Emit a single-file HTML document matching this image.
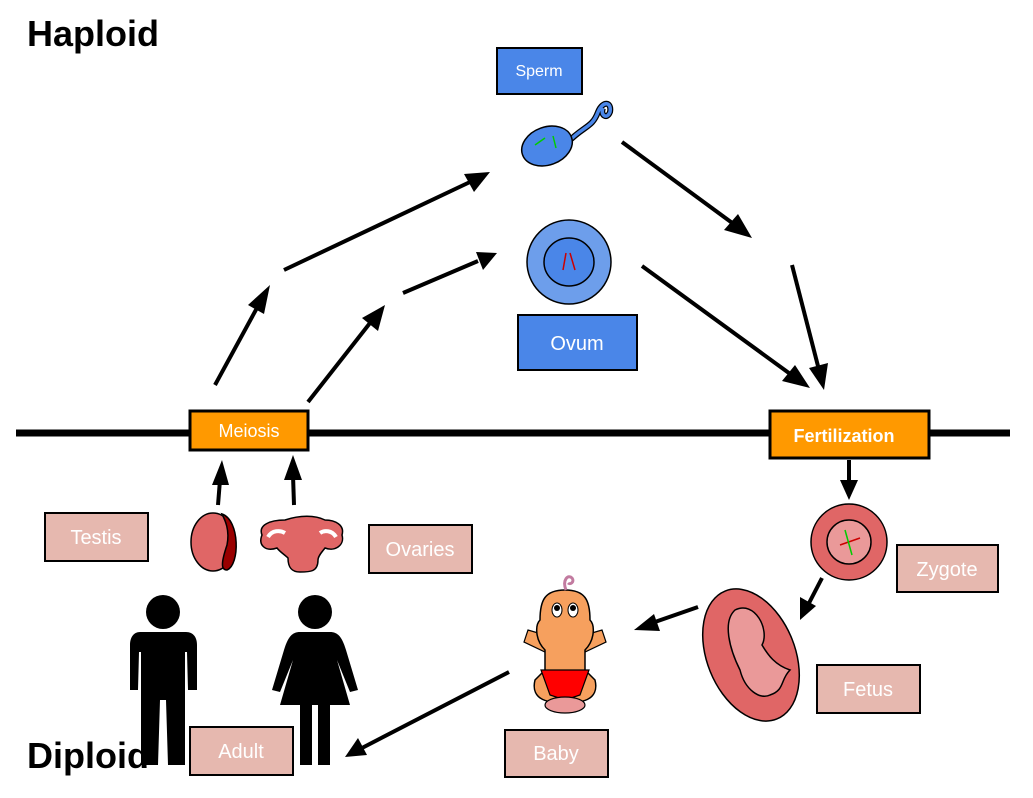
<!DOCTYPE html>
<html><head><meta charset="utf-8"><style>
body{margin:0;background:#fff;}
svg{display:block;font-family:"Liberation Sans",sans-serif;}
</style></head><body>
<svg width="1033" height="798" viewBox="0 0 1033 798" xmlns="http://www.w3.org/2000/svg">
<text x="27" y="46" font-size="36" font-weight="bold">Haploid</text>
<text x="27" y="768" font-size="36" font-weight="bold">Diploid</text>
<line x1="16" y1="433" x2="1010" y2="433" stroke="#000" stroke-width="7"/>

<g stroke="#000" stroke-width="4" fill="none">
<line x1="215" y1="385" x2="258" y2="306"/>
<line x1="284" y1="270" x2="470" y2="182"/>
<line x1="308" y1="402" x2="370" y2="323"/>
<line x1="403" y1="293" x2="478" y2="261"/>
<line x1="622" y1="142" x2="735" y2="225"/>
<line x1="792" y1="265" x2="819" y2="370"/>
<line x1="642" y1="266" x2="793" y2="376"/>
<line x1="849" y1="460" x2="849" y2="485"/>
<line x1="822" y1="578" x2="808" y2="605"/>
<line x1="698" y1="607" x2="652" y2="623"/>
<line x1="509" y1="672" x2="362" y2="748"/>
<line x1="218" y1="505" x2="220" y2="480"/>
<line x1="294" y1="505" x2="293" y2="475"/>
</g>
<g fill="#000">
<polygon points="270,285 264,314 248,305"/>
<polygon points="490,172 474,192 464,174"/>
<polygon points="385,305 378,331 362,318"/>
<polygon points="497,253 483,270 476,252"/>
<polygon points="752,238 724,230 738,214"/>
<polygon points="824,390 809,368 828,363"/>
<polygon points="810,388 782,381 795,365"/>
<polygon points="849,500 840,480 858,480"/>
<polygon points="800,620 800,597 816,606"/>
<polygon points="634,630 654,614 660,631"/>
<polygon points="345,757 358,738 367,755"/>
<polygon points="222,460 229,485 212,485"/>
<polygon points="293,455 302,480 284,480"/>
</g>

<rect x="190" y="411" width="118" height="39" fill="#ff9900" stroke="#000" stroke-width="3"/>
<text x="249" y="437" font-size="18" fill="#fff" text-anchor="middle">Meiosis</text>
<rect x="770" y="411" width="159" height="47" fill="#ff9900" stroke="#000" stroke-width="3"/>
<text x="844" y="442" font-size="18" fill="#fff" font-weight="bold" text-anchor="middle">Fertilization</text>
<rect x="497" y="48" width="85" height="46" fill="#4a86e8" stroke="#000" stroke-width="2"/>
<text x="539" y="76" font-size="16" fill="#fff" text-anchor="middle">Sperm</text>
<rect x="518" y="315" width="119" height="55" fill="#4a86e8" stroke="#000" stroke-width="2"/>
<text x="577" y="350" font-size="20" fill="#fff" text-anchor="middle">Ovum</text>
<g fill="#e6b8af" stroke="#000" stroke-width="2">
<rect x="45" y="513" width="103" height="48"/>
<rect x="369" y="525" width="103" height="48"/>
<rect x="897" y="545" width="101" height="47"/>
<rect x="817" y="665" width="103" height="48"/>
<rect x="505" y="730" width="103" height="47"/>
<rect x="190" y="727" width="103" height="48"/>
</g>
<g fill="#fff" font-size="20" text-anchor="middle">
<text x="96" y="544">Testis</text>
<text x="420" y="556">Ovaries</text>
<text x="947" y="576">Zygote</text>
<text x="868" y="696">Fetus</text>
<text x="556" y="760">Baby</text>
<text x="241" y="758">Adult</text>
</g>

<path d="M568,142 C585,125 592,128 598,112 C603,100 612,102 610,112 C607,120 600,115 603,108" fill="none" stroke="#000" stroke-width="6"/>
<path d="M568,142 C585,125 592,128 598,112 C603,100 612,102 610,112 C607,120 600,115 603,108" fill="none" stroke="#4a86e8" stroke-width="3.5"/>
<ellipse cx="547" cy="146" rx="26" ry="19" transform="rotate(-20 547 146)" fill="#4a86e8" stroke="#000" stroke-width="1.5"/>
<line x1="535" y1="145" x2="545" y2="138" stroke="#0c0" stroke-width="1.5"/>
<line x1="553" y1="136" x2="556" y2="148" stroke="#0c0" stroke-width="1.5"/>
<circle cx="569" cy="262" r="42" fill="#6d9eeb" stroke="#000" stroke-width="1.5"/>
<ellipse cx="569" cy="262" rx="25" ry="24" fill="#4a86e8" stroke="#000" stroke-width="1.5"/>
<line x1="566" y1="253" x2="563" y2="270" stroke="#c00" stroke-width="1.5"/>
<line x1="570" y1="253" x2="575" y2="270" stroke="#c00" stroke-width="1.5"/>
<circle cx="849" cy="542" r="38" fill="#e06666" stroke="#000" stroke-width="1.5"/>
<circle cx="849" cy="542" r="22" fill="#ea9999" stroke="#000" stroke-width="1.5"/>
<line x1="840" y1="545" x2="860" y2="538" stroke="#c00" stroke-width="1.5"/>
<line x1="845" y1="530" x2="852" y2="555" stroke="#0c0" stroke-width="1.5"/>
<ellipse cx="751" cy="655" rx="44" ry="69" transform="rotate(-22 751 655)" fill="#e06666" stroke="#000" stroke-width="1.5"/>
<path d="M735,610 C755,600 770,630 762,645 C768,655 775,665 790,670 C780,680 785,690 770,695 C760,700 745,690 740,670 C730,650 722,622 735,610Z" fill="#ea9999" stroke="#000" stroke-width="1.5"/>
<path d="M545,635 L528,630 L524,642 L545,652Z M585,635 L602,630 L606,642 L585,652Z" fill="#f6a05e" stroke="#000" stroke-width="1.2"/>
<path d="M565,590 C545,590 540,600 540,620 C535,625 535,640 545,650 C545,660 545,665 545,670 L535,680 C530,700 550,705 565,700 C580,705 600,700 595,680 L585,670 C585,665 585,660 585,650 C595,640 595,625 590,620 C590,600 585,590 565,590Z" fill="#f6a05e" stroke="#000" stroke-width="1.5"/>
<path d="M541,670 L589,670 L580,695 L565,700 L550,695Z" fill="#f00" stroke="#000" stroke-width="1.2"/>
<ellipse cx="565" cy="705" rx="20" ry="8" fill="#ea9999" stroke="#000" stroke-width="1.2"/>
<ellipse cx="557" cy="610" rx="5" ry="7" fill="#fff" stroke="#000"/>
<ellipse cx="573" cy="610" rx="5" ry="7" fill="#fff" stroke="#000"/>
<circle cx="557" cy="608" r="3" fill="#000"/><circle cx="573" cy="608" r="3" fill="#000"/>
<path d="M566,590 C562,580 568,574 572,578 C575,582 570,585 568,583" fill="none" stroke="#c27ba0" stroke-width="3"/>
<ellipse cx="213" cy="542" rx="22" ry="29" fill="#e06666" stroke="#000" stroke-width="1.5"/>
<path d="M222,514 C240,520 240,565 227,570 C220,570 222,560 227,545 C230,530 225,520 222,514Z" fill="#990000" stroke="#000" stroke-width="1.5"/>
<path d="M285,520 C300,515 315,515 325,520 C335,520 345,525 342,535 C345,545 335,552 325,548 C322,552 318,556 318,560 C318,572 310,572 300,572 C292,572 288,568 288,558 C285,555 280,552 277,548 C265,552 258,545 262,535 C258,525 270,520 285,520Z" fill="#e06666" stroke="#000" stroke-width="1.5"/>
<path d="M268,537 C272,530 280,530 285,533 M336,537 C332,530 324,530 320,533" stroke="#fff" stroke-width="4" fill="none"/>
<g fill="#000">
<circle cx="163" cy="612" r="17"/>
<path d="M140,632 L186,632 C193,632 197,637 197,645 L197,690 L188,690 L187,652 L185,652 L185,765 L168,765 L166,700 L160,700 L158,765 L141,765 L141,652 L139,652 L138,690 L130,690 L130,645 C130,637 134,632 140,632Z"/>
<circle cx="315" cy="612" r="17"/>
<path d="M300,632 L330,632 C338,632 342,637 346,650 L358,690 L350,692 L337,660 L350,705 L330,705 L330,765 L318,765 L318,705 L312,705 L312,765 L300,765 L300,705 L280,705 L293,660 L280,692 L272,690 L284,650 C288,637 292,632 300,632Z"/>
</g>
</svg>
</body></html>
